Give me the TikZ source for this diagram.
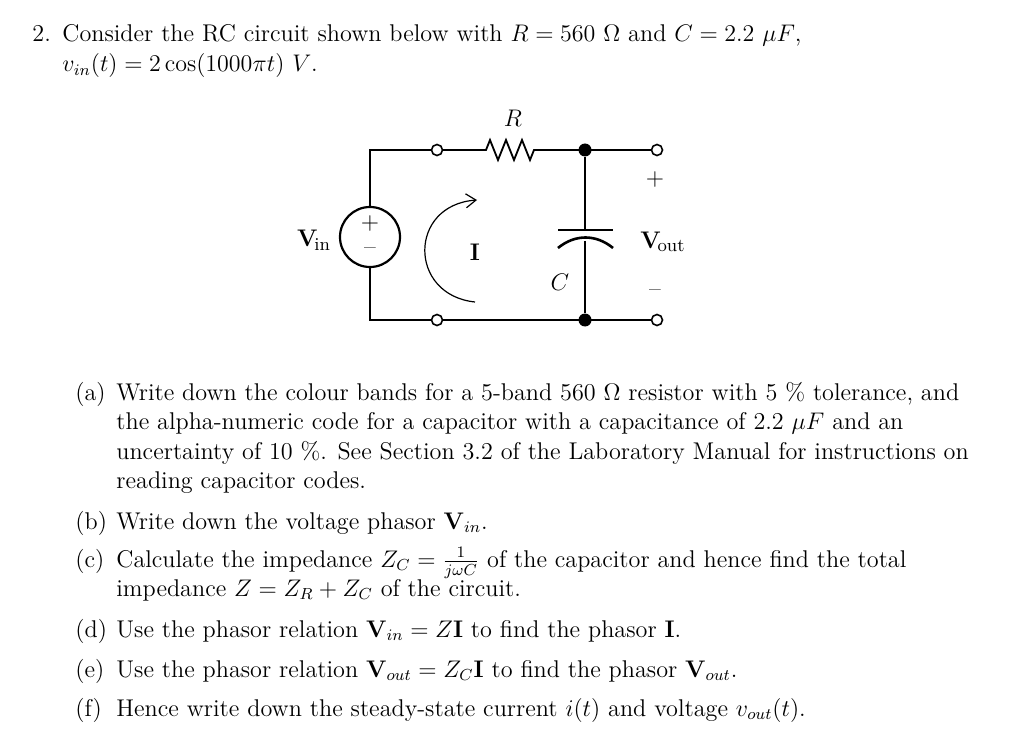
\documentclass[tikz,border=0pt]{standalone}
\usepackage{amsmath}
\usetikzlibrary{arrows.meta}
\begin{document}
\begin{tikzpicture}[x=0.5pt,y=-0.5pt,
  txt/.style={anchor=base west,inner sep=0pt,font=\fontsize{12.1}{14.5}\selectfont},
  wire/.style={line width=0.9pt},
  term/.style={circle,draw,line width=0.8pt,fill=white,inner sep=0pt,minimum size=5.5pt},
  jdot/.style={circle,fill=black,inner sep=0pt,minimum size=6.5pt},
  clab/.style={font=\fontsize{12}{14}\selectfont,inner sep=0pt},
  lab/.style={font=\fontsize{13}{15}\selectfont,inner sep=0pt}]
\useasboundingbox (0,0) rectangle (1024,749);
% text
\node[txt] (n2) at (32,42) {2.};
\node[txt] (l1) at (62,42) {Consider the RC circuit shown below with $R=560\ \Omega$ and $C=2.2\ \mu F$,};
\node[txt] (l2) at (62,72) {$v_{in}(t)=2\cos(1000\pi t)\ V$.};
\node[txt] (a) at (75,400) {(a)};
\node[txt] (a1) at (116,400) {Write down the colour bands for a 5-band 560 $\Omega$ resistor with 5 \% tolerance, and};
\node[txt] (a2) at (116,429) {the alpha-numeric code for a capacitor with a capacitance of 2.2 $\mu F$ and an};
\node[txt] (a3) at (116,459) {uncertainty of 10 \%. See Section 3.2 of the Laboratory Manual for instructions on};
\node[txt] (a4) at (116,488) {reading capacitor codes.};
\node[txt] (b) at (75,529) {(b)};
\node[txt] (b1) at (116,529) {Write down the voltage phasor $\mathbf{V}_{in}$.};
\node[txt] (c) at (75,567) {(c)};
\node[txt] (c1) at (116,567) {Calculate the impedance $Z_C=\frac{1}{j\omega C}$ of the capacitor and hence find the total};
\node[txt] (c2) at (116,596) {impedance $Z=Z_R+Z_C$ of the circuit.};
\node[txt] (d) at (75,637) {(d)};
\node[txt] (d1) at (116,637) {Use the phasor relation $\mathbf{V}_{in}=Z\mathbf{I}$ to find the phasor $\mathbf{I}$.};
\node[txt] (e) at (75,677) {(e)};
\node[txt] (e1) at (116,677) {Use the phasor relation $\mathbf{V}_{out}=Z_C\mathbf{I}$ to find the phasor $\mathbf{V}_{out}$.};
\node[txt] (f) at (75,716) {(f)};
\node[txt] (f1) at (116,716) {Hence write down the steady-state current $i(t)$ and voltage $v_{out}(t)$.};
% circuit
\coordinate (tl) at (370,150);
\coordinate (bl) at (370,320);
\node[circle,draw,line width=1.1pt,minimum size=30pt,inner sep=0pt] (src) at (370,237) {};
\node[clab] at (370,224) {+};
\node[clab] at (370,251) {--};
\coordinate (r0) at (486,150);
\coordinate (jt0) at (585,150);
\node[jdot] (jt) at (585,150) {};
\node[jdot] (jb) at (585,320) {};
\coordinate (cp) at (585,230);
\coordinate (cq) at (585,241);
\draw[wire] (src.north) -- (tl) -- (r0)
  -- ++(4,-10) -- ++(8,20) -- ++(8,-20) -- ++(8,20) -- ++(8,-20) -- ++(8,20) -- ++(4,-10)
  -- (jt0) -- (657,150);
\draw[wire] (src.south) -- (bl) -- (657,320);
\draw[wire] (jt) -- (cp);
\draw[line width=1.3pt] (558,230) -- (613,230);
\draw[line width=1.3pt] (558,248) .. controls (575,234) and (596,234) .. (613,248);
\draw[wire] (cq) -- (jb);
\node[term] (t1) at (437,150) {};
\node[term] (t2) at (437,320) {};
\node[term] (t3) at (657,150) {};
\node[term] (t4) at (657,320) {};
\draw[line width=0.6pt,-{Straight Barb[length=5pt,width=7pt]}] (475,302) .. controls (408,295) and (408,205) .. (477,200);
\node[lab] (rl) at (513,118) {$R$};
\node[lab] (cl) at (560,282) {$C$};
\node[lab] (il) at (475,252) {$\mathbf{I}$};
\node[lab] (vin) at (314,240) {$\mathbf{V}_{\!\text{in}}$};
\node[lab] (vout) at (663,242) {$\mathbf{V}_{\!\text{out}}$};
\node[clab] (pl) at (655,180) {+};
\node[clab] (mi) at (655,293) {--};
\end{tikzpicture}
\end{document}
